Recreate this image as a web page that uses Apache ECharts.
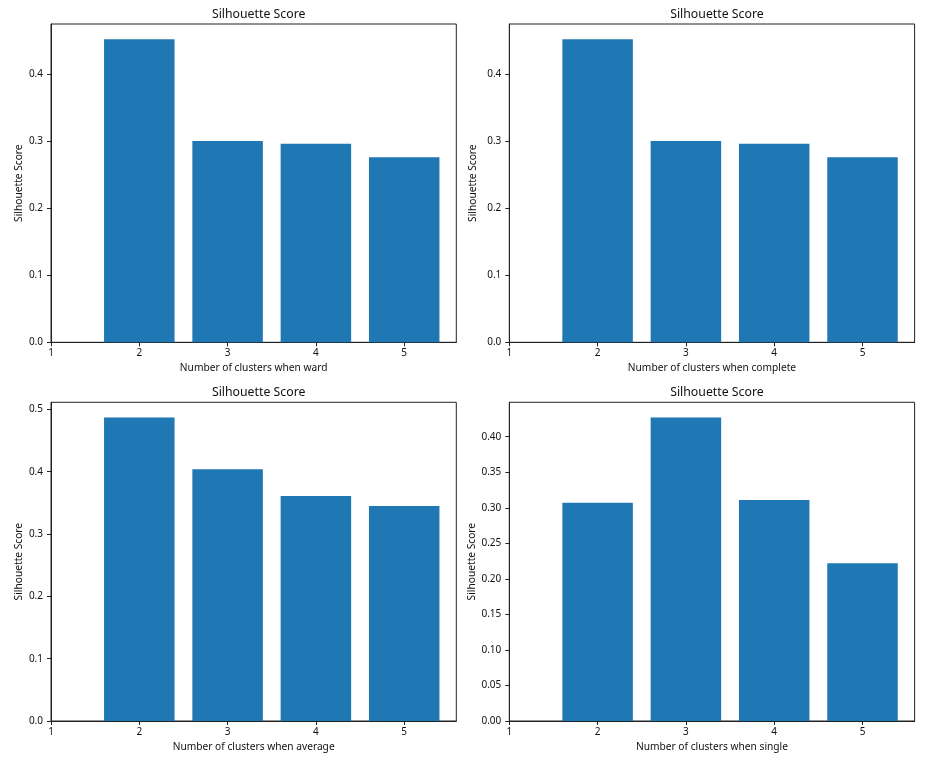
<!DOCTYPE html>
<html>
<head>
<meta charset="utf-8">
<script src="https://cdn.jsdelivr.net/npm/echarts@6/dist/echarts.min.js"></script>
<style>
html,body{margin:0;padding:0;background:#fff;}
#chart{width:925px;height:765px;}
</style>
</head>
<body>
<div id="chart"></div>
<script>
// ---- data ----
const clusters = [2, 3, 4, 5];
const wardScores = [0.452, 0.300, 0.296, 0.276];
const completeScores = [0.452, 0.300, 0.296, 0.276];
const averageScores = [0.487, 0.404, 0.361, 0.345];
const singleScores = [0.307, 0.427, 0.311, 0.222];
const methods = ['ward', 'complete', 'average', 'single'];
const xTicks = [1, 2, 3, 4, 5];
const yTicksA = [0, 0.1, 0.2, 0.3, 0.4];
const yTicksC = [0, 0.1, 0.2, 0.3, 0.4, 0.5];
const yTicksD = [0, 0.05, 0.10, 0.15, 0.20, 0.25, 0.30, 0.35, 0.40];

const panels = [
  {scores: wardScores, yTicks: yTicksA, dec: 1, left: 51, top: 24, h: 318.3, nameGap: 27},
  {scores: completeScores, yTicks: yTicksA, dec: 1, left: 509.3, top: 24, h: 318.3, nameGap: 31},
  {scores: averageScores, yTicks: yTicksC, dec: 1, left: 51, top: 402.3, h: 318.7, nameGap: 27},
  {scores: singleScores, yTicks: yTicksD, dec: 2, left: 509.3, top: 402.3, h: 318.7, nameGap: 32.5}
];
const W = 405.3;
const FONT = '"Noto Sans", "Open Sans", sans-serif';
const TXT = '#111';

const grid = [], xAxis = [], yAxis = [], series = [], title = [];
panels.forEach((p, i) => {
  grid.push({left: p.left, top: p.top, width: W, height: p.h, show: true,
    borderColor: '#222', borderWidth: 1, backgroundColor: 'transparent', containLabel: false});
  title.push({text: 'Silhouette Score', left: p.left + W / 2, top: p.top - 20.5, textAlign: 'center',
    textStyle: {fontFamily: FONT, fontSize: 12.3, fontWeight: 'normal', color: TXT}});
  xAxis.push({type: 'value', gridIndex: i, min: 1, max: 5.59,
    name: 'Number of clusters when ' + methods[i], nameLocation: 'middle', nameGap: 21,
    nameTextStyle: {fontFamily: FONT, fontSize: 10.2, color: TXT},
    splitLine: {show: false},
    axisLine: {show: true, onZero: false, lineStyle: {color: '#222', width: 1}},
    axisTick: {show: true, length: 4, inside: false, customValues: xTicks, lineStyle: {color: '#222'}},
    axisLabel: {customValues: xTicks, margin: 6, fontFamily: FONT, fontSize: 10, color: TXT,
      formatter: v => String(v)}
  });
  yAxis.push({type: 'value', gridIndex: i, min: 0,
    max: function (v) { return v.max * 1.05; },
    name: 'Silhouette Score', nameLocation: 'middle', nameGap: p.nameGap, nameRotate: 90,
    nameTextStyle: {fontFamily: FONT, fontSize: 10.2, color: TXT},
    splitLine: {show: false},
    axisLine: {show: true, lineStyle: {color: '#222', width: 1}},
    axisTick: {show: true, length: 4, inside: false, customValues: p.yTicks, lineStyle: {color: '#222'}},
    axisLabel: {customValues: p.yTicks, margin: 8, fontFamily: FONT, fontSize: 10, color: TXT,
      formatter: v => Number(v).toFixed(p.dec)}
  });
  series.push({type: 'bar', xAxisIndex: i, yAxisIndex: i, barWidth: 70.5,
    itemStyle: {color: '#1f77b4'}, silent: true,
    data: clusters.map((c, k) => [c, p.scores[k]])});
});

const chart = echarts.init(document.getElementById('chart'), null, {renderer: 'canvas'});
chart.setOption({animation: false, backgroundColor: '#fff', title, grid, xAxis, yAxis, series});
</script>
</body>
</html>
